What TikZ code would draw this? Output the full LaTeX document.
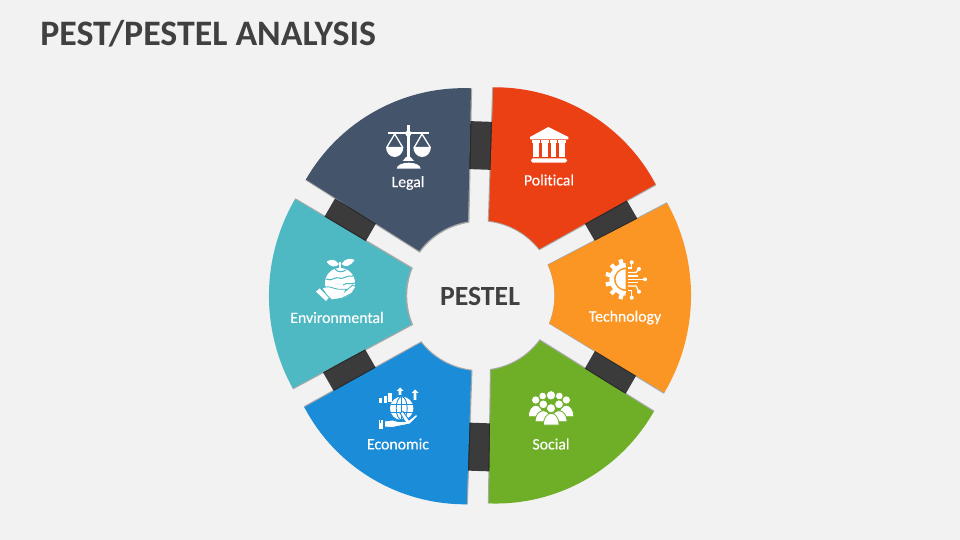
\documentclass[tikz,border=0pt]{standalone}
\usepackage{fontspec}
\usepackage{color}
\setmainfont{Carlito}
\newfontfamily\labelfont[FakeBold=0.3,Ligatures=NoCommon]{Carlito}
\definecolor{pagebg}{HTML}{F2F2F2}
\definecolor{inkgrey}{HTML}{404040}
\definecolor{bargrey}{HTML}{3B3B3B}
\definecolor{legalblue}{HTML}{44546A}
\definecolor{politicalred}{HTML}{EB3F14}
\definecolor{techorange}{HTML}{FB9624}
\definecolor{socialgreen}{HTML}{6FAF27}
\definecolor{econblue}{HTML}{1A8CD8}
\definecolor{enviroteal}{HTML}{4EB9C3}

\begin{document}
\begin{tikzpicture}[x=0.02cm,y=0.02cm]
	\tikzstyle{every node}+=[inner sep=0pt]
	\tikzstyle{titletext}=[text=inkgrey, font=\fontsize{20.4}{24}\selectfont\bfseries]
	\tikzstyle{hubtext}=[text=inkgrey, font=\fontsize{15.8}{18}\selectfont\bfseries]
	\tikzstyle{seglabel}=[text=white, font=\labelfont\fontsize{9}{11}\selectfont]
	\tikzstyle{gapbar}=[fill=bargrey, minimum width=0.96cm, minimum height=0.46cm]
	\tikzstyle{edgeshade}=[draw=black, opacity=0.3, line width=1.3pt]
	\tikzstyle{wire}=[draw=white, line width=0.75pt]
	\tikzstyle{crowd}=[fill=white, draw=socialgreen, line width=0.45pt]
	\useasboundingbox (0,0) rectangle (960,-540);
	\fill [pagebg] (0,0) rectangle (960,-540);
	\draw (40,-34) node (title) [titletext, anchor=west] {PEST/PESTEL ANALYSIS};
	\node (barnorth) [gapbar, rotate=88] at (481,-145.5) {};
	\node (barnortheast) [gapbar, rotate=30] at (611,-221) {};
	\node (barsoutheast) [gapbar, rotate=-30] at (610.5,-372) {};
	\node (barsouth) [gapbar, rotate=88] at (479.2,-447) {};
	\node (barsouthwest) [gapbar, rotate=30] at (349.5,-370.3) {};
	\node (barnorthwest) [gapbar, rotate=-30] at (350,-220.5) {};
	\draw [edgeshade] (471,-88.3) -- (468.3,-221.7) arc (98.95:143.5:75.2) -- (306,-179.3);
	\fill [legalblue] (471,-88.3) arc (87.7:150.1:182) -- (419.3,-251) arc (143.5:98.95:75.2) -- cycle;
	\draw [edgeshade] (493.3,-87.3) -- (489,-220.7) arc (83.2:38.4:75.8) -- (655.7,-184.3);
	\fill [politicalred] (493.3,-87.3) arc (90.45:27.85:182) -- (539.3,-249) arc (38.4:83.2:75.8) -- cycle;
	\draw [edgeshade] (667.3,-203.3) -- (549,-265) arc (24.2:-21.5:75) -- (664.3,-392.7);
	\fill [techorange] (667.3,-203.3) arc (28.9:-30.7:190.5) -- (549.3,-323.3) arc (-21.5:24.2:75) -- cycle;
	\draw [edgeshade] (653.7,-411.7) -- (540,-340.7) arc (-36.7:-81.5:74.8) -- (489,-503.3);
	\fill [socialgreen] (653.7,-411.7) arc (-29.7:-92.1:182) -- (491,-370) arc (-81.5:-36.7:74.8) -- cycle;
	\draw [edgeshade] (466.7,-504.3) -- (471.3,-370.7) arc (263.35:218.4:75.2) -- (304.3,-407.3);
	\fill [econblue] (466.7,-504.3) arc (270.45:207.85:182) -- (421,-342.7) arc (218.4:263.35:75.2) -- cycle;
	\draw [edgeshade] (292.7,-388.3) -- (411.7,-324.3) arc (202.5:158.1:74.2) -- (295,-199.3);
	\fill [enviroteal] (292.7,-388.3) arc (208.8:149.8:192) -- (411,-268.3) arc (158.1:202.5:74.2) -- cycle;
	\draw (480,-296) node (hub) [hubtext] {PESTEL};
	\draw (408,-183) node (legal) [seglabel] {Legal};
	\draw (549,-180) node (political) [seglabel] {Political};
	\draw (625,-317.5) node (technology) [seglabel] {Technology};
	\draw (551,-444) node (social) [seglabel] {Social};
	\draw (398,-444) node (economic) [seglabel] {Economic};
	\draw (337,-317.5) node (environmental) [seglabel] {Environmental};
	\fill [white] (407,-125) rectangle (409.6,-157);
	\fill [white] (388,-132.5) rectangle (429,-134.5);
	\fill [white] (408.3,-133.5) circle (3);
	\fill [white] (402.7,-161) -- (406,-157) -- (410.5,-157) -- (414,-161) -- cycle;
	\fill [white] (396.7,-168.7) arc (180:0:12 and 6) -- cycle;
	\fill [white] (386,-147) arc (180:360:8.7 and 10) -- cycle;
	\fill [white] (413.3,-147) arc (180:360:8.8 and 10) -- cycle;
	\draw [wire] (387,-147) -- (394.7,-134) -- (402.5,-147);
	\draw [wire] (414.5,-147) -- (422,-134) -- (430,-147);
	\fill [white] (530,-137) -- (548.3,-127) -- (568.3,-137) -- (568.3,-139.3) -- (530,-139.3) -- cycle;
	\fill [white] (532.3,-140.5) rectangle (540.3,-143);
	\fill [white] (541.3,-140.5) rectangle (549,-143);
	\fill [white] (549.7,-140.5) rectangle (557.3,-143);
	\fill [white] (558.3,-140.5) rectangle (566,-143);
	\fill [white] (533.3,-143) rectangle (539.3,-156.7);
	\fill [white] (542.3,-143) rectangle (548,-156.7);
	\fill [white] (550.7,-143) rectangle (556.3,-156.7);
	\fill [white] (559.3,-143) rectangle (565,-156.7);
	\fill [white, rounded corners=1pt] (531,-158.3) rectangle (567,-162.7);
	\fill [white] (625.7,-269.3) arc (90:270:10) -- cycle;
	\draw [white, line width=2.6pt] (625.7,-265.3) arc (90:270:14);
	\draw [white, line width=2.4pt] (625.7,-279.3) ++(105:15) -- ++(105:5.5) (625.7,-279.3) ++(135:15) -- ++(135:5.5) (625.7,-279.3) ++(165:15) -- ++(165:5.5) (625.7,-279.3) ++(195:15) -- ++(195:5.5) (625.7,-279.3) ++(225:15) -- ++(225:5.5) (625.7,-279.3) ++(255:15) -- ++(255:5.5);
	\draw [wire] (628,-268) -- (631.7,-268) -- (631.7,-262.3);
	\draw [wire] (628,-272.5) -- (636,-272.5) -- (639,-269);
	\draw [wire] (628,-276) -- (638,-276);
	\draw [wire] (628,-279.3) -- (645,-279.3);
	\draw [wire] (628,-282.5) -- (638,-282.5);
	\draw [wire] (628,-286) -- (636,-286) -- (639,-291.7);
	\draw [wire] (628,-290.5) -- (631.7,-290.5) -- (631.7,-297.7);
	\fill [white] (631.7,-262.3) circle (2);
	\fill [white] (639,-269) circle (2);
	\fill [white] (645,-279.3) circle (2);
	\fill [white] (639,-291.7) circle (2);
	\fill [white] (631.7,-297.7) circle (2);
	\fill [white] (340,-283) circle (15);
	\draw [enviroteal, line width=0.6pt] (326,-279) .. controls (332,-282) and (335,-276) .. (339,-278) .. controls (343,-280) and (346,-275) .. (353,-276);
	\draw [enviroteal, line width=0.6pt] (335,-269) .. controls (338,-273) and (343,-272) .. (346,-270);
	\draw [enviroteal, line width=0.6pt] (343,-285) .. controls (347,-282) and (350,-285) .. (355,-283);
	\draw [white, line width=0.6pt] (340,-268) -- (340,-262);
	\fill [white] (339,-264) .. controls (335,-258.5) and (330,-259) .. (326.5,-262) .. controls (330,-267) and (336,-268) .. (339,-264);
	\fill [white] (341.5,-264) .. controls (345,-258) and (351,-258) .. (354.5,-260) .. controls (351,-266) and (345,-268) .. (341.5,-264);
	\fill [white] (316,-291.7) -- (319.5,-288.5) -- (329,-297.5) -- (326,-301) -- cycle;
	\filldraw [white, draw=enviroteal, line width=0.5pt] (321.7,-287.7) -- (328.3,-286.7) -- (338.3,-289.3) -- (346,-289.3) -- (345,-291.5) -- (352.7,-285) -- (356,-286.7) -- (351.7,-293.3) -- (341.7,-298.3) -- (331.7,-300) -- (326.7,-295) -- cycle;
	\fill [white] (379.3,-398.3) rectangle (381.7,-403.3);
	\fill [white] (384,-395.7) rectangle (386.7,-403.3);
	\fill [white] (388.3,-393.3) rectangle (391.7,-401.7);
	\fill [white] (398.7,-395) -- (398.7,-391) -- (396.5,-391) -- (400,-387.5) -- (403.5,-391) -- (401.3,-391) -- (401.3,-395) -- cycle;
	\fill [white] (413.7,-400) -- (413.7,-393) -- (411.5,-393) -- (415,-389.5) -- (418.5,-393) -- (416.3,-393) -- (416.3,-400) -- cycle;
	\fill [white] (401.7,-408.3) circle (11.7);
	\draw [econblue, line width=0.5pt] (401.7,-408.3) ellipse (5.5 and 11.7);
	\draw [econblue, line width=0.5pt] (401.7,-396.6) -- (401.7,-420);
	\draw [econblue, line width=0.5pt] (390.5,-404.5) -- (413,-404.5);
	\draw [econblue, line width=0.5pt] (390.5,-412) -- (413,-412);
	\fill [white] (378.5,-419.5) rectangle (383,-428.5);
	\draw [econblue, line width=0.5pt] (380.7,-419.5) -- (380.7,-423);
	\filldraw [white, draw=econblue, line width=0.5pt] (384.5,-421) -- (393,-420) -- (398,-421.5) -- (405,-421.5) -- (400,-413) -- (403,-411.5) -- (409,-420) -- (416,-414.5) -- (418,-416) -- (410,-424) -- (392,-427.5) -- (384.5,-427) -- cycle;
	\draw [crowd] (542.7,-396) circle (3.9);
	\draw [crowd] (559.3,-396) circle (3.9);
	\draw [crowd] (551,-395.3) circle (4.7);
	\draw [crowd] (528.3,-416.7) arc (180:0:7.5 and 11.5) -- cycle;
	\draw [crowd] (558.7,-416.7) arc (180:0:7.6 and 11.5) -- cycle;
	\draw [crowd] (535.7,-400) circle (4.2);
	\draw [crowd] (566.3,-400) circle (4.2);
	\draw [crowd] (535,-421.7) arc (180:0:8.3 and 11) -- cycle;
	\draw [crowd] (550.7,-421.7) arc (180:0:8.2 and 11) -- cycle;
	\draw [crowd] (543.3,-404.3) circle (4.4);
	\draw [crowd] (559,-404.3) circle (4.4);
	\draw [crowd] (543.3,-425) arc (180:0:7.9 and 11.7) -- cycle;
	\draw [crowd] (551,-408.3) circle (4.6);
\end{tikzpicture}
\end{document}
